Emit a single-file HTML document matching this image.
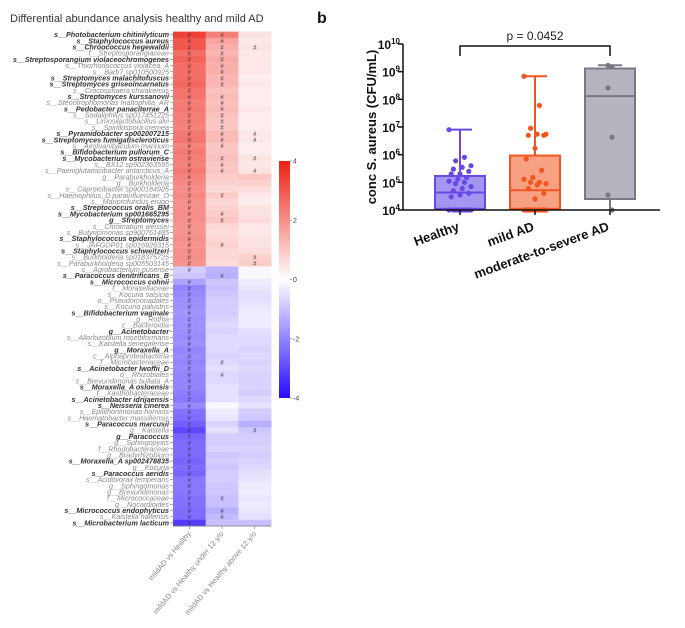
<!DOCTYPE html>
<html><head><meta charset="utf-8">
<style>
body{margin:0;background:#fff;}
svg{display:block;font-family:"Liberation Sans",sans-serif;}
</style></head>
<body>
<svg id="fig" width="685" height="628" viewBox="0 0 685 628" xmlns="http://www.w3.org/2000/svg">
<text x="10" y="22" font-size="11" fill="#333">Differential abundance analysis healthy and mild AD</text>
<g id="heat"></g>
<g id="cbar"></g>
<text x="317" y="23" font-size="16" font-weight="bold" fill="#111">b</text>
<g id="box"></g>
</svg>
<script>
const NS="http://www.w3.org/2000/svg";
function mk(tag,attrs,parent,txt){const e=document.createElementNS(NS,tag);for(const k in attrs)e.setAttribute(k,attrs[k]);if(txt!==undefined)e.textContent=txt;parent.appendChild(e);return e;}

// ---------- Heatmap data ----------
const rowLabels=["s__Photobacterium chitinilyticum","s__Staphylococcus aureus","s__Chroococcus hegewaldii","f__Streptosporangiaceae","s__Streptosporangium violaceochromogenes","s__Thiorhodococcus violacea_A","s__Barb7 sp010500925","s__Streptomyces malachitofuscus","s__Streptomyces griseoincarnatus","s__Crocosphaera chwakensis","s__Streptomyces kurssanovii","s__Stenotrophomonas maltophilia_AR","s__Pedobacter panaciterrae_A","s__Sodaliphilus sp017451225","s__Limosilactobacillus alvi","s__Spirillospora cremea","s__Pyramidobacter sp002007215","s__Streptomyces fumigatiscleroticus","s__Aestuariibaculum marinum","s__Bifidobacterium pullorum_C","s__Mycobacterium ostraviense","s__BX12 sp902363595","s__Paeniglutamicibacter antarcticus_A","g__Paraburkholderia","g__Burkholderia","s__Caproicibacter sp900184925","s__Haemophilus_D parainfluenzae_O","s__Mariprofundus erugo","s__Streptococcus oralis_BM","s__Mycobacterium sp001665295","g__Streptomyces","s__Chromatium weissei","s__Butyricimonas sp900761485","s__Staphylococcus epidermidis","s__JAFGDP01 sp016926315","s__Staphylococcus schweitzeri","s__Burkholderia sp018375725","s__Paraburkholderia sp005503145","s__Agrobacterium pusense","s__Paracoccus denitrificans_B","s__Micrococcus cohnii","f__Moraxellaceae","s__Kocuria salsicia","o__Pseudomonadales","s__Kocuria palustris","s__Bifidobacterium vaginale","g__Rothia","c__Bacteroidia","g__Acinetobacter","s__Allorhizobium rosettiformans","s__Kaistella senegalense","g__Moraxella_A","c__Alphaproteobacteria","f__Microbacteriaceae","s__Acinetobacter lwoffii_D","o__Rhizobiales","s__Brevundimonas bullata_A","s__Moraxella_A osloensis","f__Xanthobacteraceae","s__Acinetobacter idrijaensis","s__Neisseria cinerea","s__Epilithonimonas hominis","s__Haematobacter massiliensis","s__Paracoccus marcusii","g__Kaistella","g__Paracoccus","g__Sphingopyxis","f__Rhodobacteraceae","g__Bradyrhizobium","s__Moraxella_A sp002478835","g__Kocuria","s__Paracoccus aeridis","s__Acidovorax temperans","g__Sphingomonas","g__Brevundimonas","f__Micrococcaceae","g__Nocardioides","s__Micrococcus endophyticus","s__Kaistella haifensis","s__Microbacterium lacticum"];
const boldRows=[1,2,3,5,8,9,11,13,17,18,20,21,29,30,31,34,36,40,41,46,49,52,55,58,60,61,64,66,70,72,78,80];
const colLabels=["mildAD vs Healthy","mildAD vs Healthy under 12 y/o","mildAD vs Healthy above 12 y/o"];
const col1=[3.4,3.0,3.0,2.6,2.8,2.6,2.6,2.6,2.7,2.5,2.5,2.3,2.4,2.3,2.3,2.2,2.4,2.5,2.2,2.4,2.3,2.2,2.4,2.2,2.1,2.0,2.1,2.0,2.0,2.0,2.0,1.9,1.9,2.0,1.9,2.0,2.0,1.9,
-0.8,-0.9,-1.5,-2.0,-1.9,-1.8,-1.8,-1.7,-1.8,-1.8,-1.8,-1.9,-1.8,-2.0,-1.9,-2.0,-1.9,-2.0,-2.0,-2.0,-2.1,-2.2,-1.9,-2.3,-2.4,-2.6,-3.0,-2.5,-2.4,-2.4,-2.4,-2.5,-2.4,-2.5,-2.2,-2.2,-2.2,-2.3,-2.3,-2.4,-2.4,-3.2];
const col2=[2.3,1.6,1.4,1.3,1.5,1.4,1.4,1.3,1.3,1.1,1.2,1.1,1.2,1.1,1.0,1.0,1.2,1.2,1.0,1.0,1.1,1.0,1.0,0.9,0.8,0.7,0.9,0.7,0.8,0.9,1.0,0.7,0.6,0.7,0.8,0.7,0.7,0.6,
-1.2,-1.3,-0.9,-1.0,-0.9,-0.8,-0.8,-0.8,-0.7,-0.6,-0.7,-0.6,-0.6,-0.6,-0.7,-0.6,-0.5,-0.6,-0.6,-0.5,-0.5,-0.5,-0.1,-0.3,-0.4,-0.7,-0.5,-0.8,-0.8,-0.7,-0.9,-0.8,-0.9,-0.8,-0.8,-0.9,-0.9,-1.0,-1.0,-1.3,-1.1,-1.0];
const col3=[0.5,0.4,0.5,0.4,0.4,0.4,0.4,0.3,0.4,0.3,0.3,0.3,0.4,0.3,0.3,0.3,0.4,0.4,0.3,0.3,0.5,0.4,0.5,1.0,0.8,0.6,0.4,0.3,0.5,0.5,0.6,0.4,0.4,0.5,0.5,0.6,0.8,0.9,
-0.1,-0.1,-0.3,-0.4,-0.5,-0.5,-0.4,-0.3,-0.3,-0.3,-0.5,-0.6,-0.6,-0.7,-0.6,-0.7,-0.6,-0.7,-0.7,-0.7,-0.8,-0.6,-0.5,-0.8,-0.9,-1.3,-0.9,-0.8,-0.8,-0.7,-0.8,-0.7,-0.6,-0.5,-0.4,-0.3,-0.3,-0.4,-0.3,-0.4,-0.5,-1.0];
const sig2=[1,2,3,4,5,6,7,8,9,11,12,13,14,15,16,17,18,19,21,22,23,27,30,31,35,40,54,56,76,78,79];
const sig3=[3,17,18,21,23,37,38,65];
const noSig1=[40];
const cbarTicks=[4,2,0,-2,-4];

const hx0=173, hcw=32.7, hy0=31.6, hrh=6.18;
function colorFor(v){
  const t=Math.max(-1,Math.min(1,v/4));
  let r,g,b;
  if(t>=0){r=255+(238-255)*t;g=255+(32-255)*t;b=255+(20-255)*t;}
  else{const s=-t;r=255+(40-255)*s;g=255+(10-255)*s;b=255;}
  return `rgb(${r|0},${g|0},${b|0})`;
}
const heat=document.getElementById('heat');
const cols=[col1,col2,col3];
cols.forEach((col,c)=>{
  col.forEach((v,i)=>{
    const r=mk('rect',{x:hx0+c*hcw,y:hy0+i*hrh,width:hcw+0.3,height:hrh+0.3,fill:colorFor(v)},heat);
    
    
    let s=false;
    if(c===0)s=!noSig1.includes(i+1);
    if(c===1)s=sig2.includes(i+1);
    if(c===2)s=sig3.includes(i+1);
    if(s){const t=mk('text',{x:hx0+c*hcw+hcw/2,y:hy0+i*hrh+hrh/2+2.3,'font-size':6,'text-anchor':'middle',fill:'#333'},heat,'#');
      
      }
  });
});
rowLabels.forEach((lab,i)=>{
  const b=boldRows.includes(i+1);
  const y=hy0+i*hrh+hrh/2;
  const t=mk('text',{x:169,y:y+2.5,'font-size':7.2,'font-style':'italic','font-weight':b?'bold':'normal','text-anchor':'end',fill:b?'#333':'#8a8a8a'},heat,lab);
  
  
  mk('line',{x1:170,x2:173,y1:y,y2:y,stroke:'#777','stroke-width':0.6},heat);
});
mk('line',{x1:hx0,x2:hx0+3*hcw,y1:hy0+80*hrh,y2:hy0+80*hrh,stroke:'#777','stroke-width':0.8},heat);
colLabels.forEach((lab,c)=>{
  const x=hx0+c*hcw+hcw/2, y=hy0+80*hrh;
  mk('line',{x1:x,x2:x,y1:y,y2:y+3,stroke:'#777','stroke-width':0.6},heat);
  const t=mk('text',{x:x+2,y:y+8,'font-size':7.5,'text-anchor':'end',fill:'#888',transform:`rotate(-50 ${x+2} ${y+8})`},heat,lab);
  
  
});
// colorbar
const cb=document.getElementById('cbar');
const defs=mk('defs',{},cb);
const lg=mk('linearGradient',{id:'cg',x1:0,y1:0,x2:0,y2:1},defs);
[4,2,0,-2,-4].forEach((v,i)=>mk('stop',{offset:i/4,'stop-color':colorFor(v)},lg));
const cbTop=161,cbBot=398;
mk('rect',{x:279,y:cbTop,width:11,height:cbBot-cbTop,fill:'url(#cg)'},cb);
cbarTicks.forEach(v=>{
  const y=cbTop+(4-v)/8*(cbBot-cbTop);
  mk('line',{x1:290,x2:292,y1:y,y2:y,stroke:'#666','stroke-width':0.6},cb);
  const t=mk('text',{x:293,y:y+2.5,'font-size':7,fill:'#444'},cb,String(v));
  
  
});

// ---------- Box plot data ----------
const groups=["Healthy","mild AD","moderate-to-severe AD"];
const boxMin=[1e4,1e4,1e4];
const boxQ1=[1.1e4,1.1e4,2.5e4];
const boxMed=[4.3e4,5.2e4,1.3e8];
const boxQ3=[1.7e5,9.3e5,1.3e9];
const boxMax=[8e6,6.8e8,1.7e9];
const ptsHealthy=[8e6,8e5,6e5,4e5,3.5e5,3e5,2.5e5,2e5,2e5,1.5e5,1.3e5,1.1e5,1e5,9e4,7e4,6e4,5e4,4e4,3.5e4,3e4,1e4,1e4,1e4,1e4,1e4,1e4,1e4,1e4,1e4,1e4];
const ptsMild=[6.8e8,6e7,9e6,5.5e6,5.5e6,5e6,5e6,1.7e6,7e5,2.7e5,1.5e5,1.3e5,1e5,1e5,9e4,8e4,6e4,4e4,2.5e4,1e4,1e4,1e4,1e4,1e4,1e4,1e4,1e4,1e4,1e4,1e4,1e4];
const ptsSevere=[1.7e9,1.5e9,2.6e8,4.3e6,3.5e4,1e4];
const yTicks=[4,5,6,7,8,9,10];
const pText="p = 0.0452";

const bx=document.getElementById('box');
const axX=403, axY=210, topY=44, xEnd=660;
const yScale=v=>axY-(Math.log10(v)-4)/6*(axY-topY);
const xCenter=[460,535,610];
const strokeC=['#6a48e6','#f2561f','#7b7886'];
const fillC=['#a595f2','#f7a082','#b6b4bf'];
const allPts=[ptsHealthy,ptsMild,ptsSevere];
groups.forEach((g,i)=>{
  const cx=xCenter[i], w=50;
  const gg=mk('g',{},bx);
  
  
  mk('line',{x1:cx,x2:cx,y1:yScale(boxMax[i]),y2:yScale(boxQ3[i]),stroke:strokeC[i],'stroke-width':2},gg);
  mk('line',{x1:cx,x2:cx,y1:yScale(boxQ1[i]),y2:yScale(boxMin[i]),stroke:strokeC[i],'stroke-width':2},gg);
  mk('line',{x1:cx-12,x2:cx+12,y1:yScale(boxMax[i]),y2:yScale(boxMax[i]),stroke:strokeC[i],'stroke-width':2},gg);
  mk('rect',{x:cx-w/2,y:yScale(boxQ3[i]),width:w,height:yScale(boxQ1[i])-yScale(boxQ3[i]),fill:fillC[i],stroke:strokeC[i],'stroke-width':2},gg);
  mk('line',{x1:cx-w/2,x2:cx+w/2,y1:yScale(boxMed[i]),y2:yScale(boxMed[i]),stroke:strokeC[i],'stroke-width':2},gg);
  allPts[i].forEach((v,j)=>{
    const off=(i===2)?((j%2)*2-1)*2:(((j*7)%11)-5)*2.2;
    const c=mk('circle',{cx:cx+off,cy:yScale(v),r:2.6,fill:strokeC[i]},gg);
    
    
  });
  const lx=cx, ly=axY+20;
  const t=mk('text',{x:lx,y:ly,'font-size':13,'font-weight':'bold','text-anchor':'end',fill:'#111',transform:`rotate(-20 ${lx} ${ly})`},bx,g);
  
  
  mk('line',{x1:cx,x2:cx,y1:axY,y2:axY+5,stroke:'#111','stroke-width':1.5},bx);
});
mk('line',{x1:axX,x2:axX,y1:topY,y2:axY,stroke:'#111','stroke-width':1.5},bx);
mk('line',{x1:axX,x2:xEnd,y1:axY,y2:axY,stroke:'#111','stroke-width':1.5},bx);
yTicks.forEach(e=>{
  const y=yScale(Math.pow(10,e));
  mk('line',{x1:axX-5,x2:axX,y1:y,y2:y,stroke:'#111','stroke-width':1.5},bx);
  const t=mk('text',{x:axX-3,y:y+5,'font-size':12,'font-weight':'bold','text-anchor':'end',fill:'#111'},bx);
  
  
  mk('tspan',{},t,'10');
  mk('tspan',{'font-size':8,dy:-5},t,String(e));
});
const yt=mk('text',{x:376,y:127,'font-size':13,'font-weight':'bold','text-anchor':'middle',fill:'#111',transform:'rotate(-90 376 127)'},bx,'conc S. aureus (CFU/mL)');


mk('path',{d:`M${xCenter[0]} 56 V46 H${xCenter[2]} V56`,fill:'none',stroke:'#111','stroke-width':1.5},bx);
const pt=mk('text',{x:(xCenter[0]+xCenter[2])/2,y:40,'font-size':12,'text-anchor':'middle',fill:'#222'},bx,pText);


</script>
</body></html>
